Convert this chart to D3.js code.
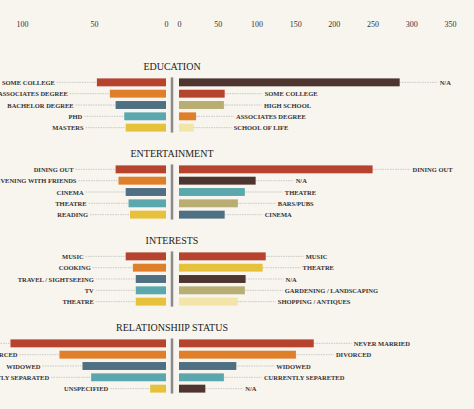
<!DOCTYPE html><html><head><meta charset="utf-8">
<script src="https://cdn.jsdelivr.net/npm/d3@7"></script>
<style>body{margin:0;background:#f8f5ef}svg{display:block}</style></head><body>
<script>
const sections = ["EDUCATION","ENTERTAINMENT","INTERESTS","RELATIONSHIIP STATUS"];
const leftLabels = [
 ["SOME COLLEGE","ASSOCIATES DEGREE","BACHELOR DEGREE","PHD","MASTERS"],
 ["DINING OUT","EVENING WITH FRIENDS","CINEMA","THEATRE","READING"],
 ["MUSIC","COOKING","TRAVEL / SIGHTSEEING","TV","THEATRE"],
 ["NEVER MARRIED","DIVORCED","WIDOWED","CURRENTLY SEPARATED","UNSPECIFIED"]];
const leftValues = [[48,39,35,29,28],[35,33,28,26,25],[28,23,21,21,21],[108,74,58,52,11]];
const rightLabels = [
 ["N/A","SOME COLLEGE","HIGH SCHOOL","ASSOCIATES DEGREE","SCHOOL OF LIFE"],
 ["DINING OUT","N/A","THEATRE","BARS/PUBS","CINEMA"],
 ["MUSIC","THEATRE","N/A","GARDENING / LANDSCAPING","SHOPPING / ANTIQUES"],
 ["NEVER MARRIED","DIVORCED","WIDOWED","CURRENTLY SEPARETED","N/A"]];
const rightValues = [[285,59,58,22,19],[250,99,85,76,59],[112,108,86,85,76],[174,151,74,58,34]];
const leftTicks = [100,50,0];
const rightTicks = [0,50,100,150,200,250,300,350];
const C = {red:"#b5432e",orange:"#e07f2a",slate:"#4f7082",teal:"#5aa8ad",yellow:"#e6c13c",brown:"#4e3530",khaki:"#b8ad72",pale:"#f3e4a9"};
const leftColors = ["red","orange","slate","teal","yellow"];
const rightColors = [["brown","red","khaki","orange","pale"],["red","brown","teal","khaki","slate"],["red","yellow","brown","khaki","pale"],["red","orange","slate","teal","brown"]];

const W=474,H=409;
const svg=d3.select("body").append("svg").attr("width",W).attr("height",H);
svg.append("rect").attr("width",W).attr("height",H).attr("fill","#f8f5ef");
const xl=d3.scaleLinear().domain([0,100]).range([166,22]);
const xr=d3.scaleLinear().domain([0,350]).range([179,450]);
const font="Liberation Serif, DejaVu Serif, serif";
svg.append("g").attr("transform","translate(0,30)").call(d3.axisTop(xl).tickValues(leftTicks).tickSize(0).tickFormat(d3.format("d")))
 .call(g=>{g.select(".domain").remove();g.selectAll("text").attr("font-family",font).attr("font-size",8).attr("fill","#333");});
svg.append("g").attr("transform","translate(0,30)").call(d3.axisTop(xr).tickValues(rightTicks).tickSize(0).tickFormat(d3.format("d")))
 .call(g=>{g.select(".domain").remove();g.selectAll("text").attr("font-family",font).attr("font-size",8).attr("fill","#333");});

sections.forEach((s,i)=>{
  const top=66+i*87;
  const y=d3.scaleBand().domain(d3.range(5)).range([top+9,top+69]).padding(0.3);
  const g=svg.append("g");
  g.append("text").attr("x",172).attr("y",top+4).attr("text-anchor","middle").attr("font-family",font).attr("font-size",10).attr("fill","#222").text(s);
  g.append("line").attr("x1",172).attr("x2",172).attr("y1",y(0)-1).attr("y2",y(4)+y.bandwidth()+1).attr("stroke","#8a8a8a").attr("stroke-width",2.5);
  d3.range(5).forEach(j=>{
    const yc=y(j)+y.bandwidth()/2;
    const lx=xl(leftValues[i][j]);
    g.append("line").attr("x1",lx-40).attr("x2",lx).attr("y1",yc).attr("y2",yc).attr("stroke","#bbb").attr("stroke-width",0.8).attr("stroke-dasharray","1.5,1");
    g.append("rect").attr("x",lx).attr("y",y(j)).attr("width",xl(0)-lx).attr("height",y.bandwidth()).attr("fill",C[leftColors[j]]);
    g.append("text").attr("x",lx-42).attr("y",yc+2.5).attr("text-anchor","end").attr("font-family",font).attr("font-weight","bold").attr("font-size",6.5).attr("fill","#333").text(leftLabels[i][j]);
    const rx=xr(rightValues[i][j]);
    g.append("line").attr("x1",rx).attr("x2",rx+38).attr("y1",yc).attr("y2",yc).attr("stroke","#bbb").attr("stroke-width",0.8).attr("stroke-dasharray","1.5,1");
    g.append("rect").attr("x",xr(0)).attr("y",y(j)).attr("width",rx-xr(0)).attr("height",y.bandwidth()).attr("fill",C[rightColors[i][j]]);
    g.append("text").attr("x",rx+40).attr("y",yc+2.5).attr("font-family",font).attr("font-weight","bold").attr("font-size",6.5).attr("fill","#333").text(rightLabels[i][j]);
  });
});
</script></body></html>
